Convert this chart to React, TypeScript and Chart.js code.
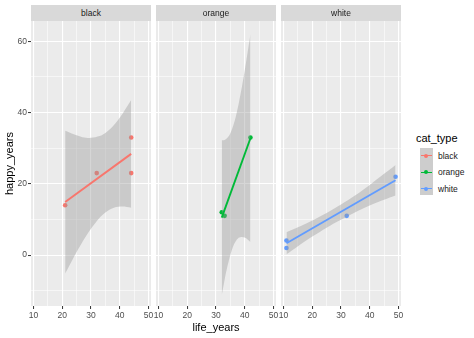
import React, { useEffect, useRef } from 'react';
import { Chart, registerables } from 'chart.js';

Chart.register(...registerables);

// ---------- data ----------
const facets = ['black', 'orange', 'white'];
const facetColors = ['#F8766D', '#00BA38', '#619CFF'];

const blackLife = [21, 32, 44, 44];
const blackHappy = [14, 23, 33, 23];
const orangeLife = [32, 33, 42];
const orangeHappy = [12, 11, 33];
const whiteLife = [11, 11, 32, 49];
const whiteHappy = [4.1, 2.0, 11, 22];

const blackFitX = [21, 44];
const blackFitY = [14.9, 28.4];
const orangeFitX = [32, 42];
const orangeFitY = [10.5, 32.8];
const whiteFitX = [11, 49];
const whiteFitY = [3.3, 21.0];

const blackBandX = [21, 24, 27, 30, 33, 35.25, 38, 41, 44];
const blackBandLow = [-5.2, -0.6, 3.7, 7.4, 10.5, 12.1, 13.3, 13.6, 13.3];
const blackBandHigh = [34.9, 33.9, 33.1, 32.9, 33.4, 34.4, 36.5, 39.7, 43.5];

const orangeBandX = [32, 32.5, 33, 34, 35, 36, 37, 38, 39, 40, 41, 42];
const orangeBandLow = [-11.3, -9.1, -6.9, -3.1, 0.1, 2.5, 4.0, 4.9, 5.1, 4.9, 4.4, 3.7];
const orangeBandHigh = [32.2, 32.2, 32.3, 32.9, 34.2, 36.3, 39.2, 42.9, 47.1, 51.8, 56.8, 62.0];

const whiteBandX = [11, 15, 20, 25, 30, 35, 40, 45, 49];
const whiteBandLow = [0.2, 2.5, 5.2, 7.7, 9.9, 12.0, 13.9, 15.5, 16.7];
const whiteBandHigh = [6.4, 7.8, 9.7, 11.8, 14.2, 16.8, 19.7, 22.8, 25.3];

const xTicks = [10, 15, 20, 25, 30, 35, 40, 45, 50];
const xTickLabels = ['10', '', '20', '', '30', '', '40', '', '50'];
const yTicks = [-10, 0, 10, 20, 30, 40, 50, 60];
const yTickLabels = ['', '0', '', '20', '', '40', '', '60'];

const xTitle = 'life_years';
const yTitle = 'happy_years';
const legendTitle = 'cat_type';

// ---------- style ----------
const FONT = '"Liberation Sans", Arial, Helvetica, sans-serif';
const BAND = 'rgba(153,153,153,0.4)';
const W = 474;
const H = 338;

const panelBg = {
  id: 'panelBg',
  beforeDraw(chart: any) {
    const { ctx, chartArea: a } = chart;
    ctx.save();
    ctx.fillStyle = '#EBEBEB';
    ctx.fillRect(a.left, a.top, a.right - a.left, a.bottom - a.top);
    ctx.restore();
  },
};

const toXY = (xs: number[], ys: number[]) => xs.map((v, i) => ({ x: v, y: ys[i] }));

type PanelProps = {
  idx: number;
  life: number[];
  happy: number[];
  fitX: number[];
  fitY: number[];
  bandX: number[];
  bandLow: number[];
  bandHigh: number[];
  canvasLeft: number;
  canvasWidth: number;
  padLeft: number;
  padRight: number;
  showY: boolean;
  showXTitle: boolean;
};

function Panel(p: PanelProps) {
  const ref = useRef<HTMLCanvasElement>(null);
  useEffect(() => {
    const color = facetColors[p.idx];
    const chart = new Chart(ref.current as HTMLCanvasElement, {
      type: 'line',
      data: {
        datasets: [
          {
            data: toXY(p.bandX, p.bandHigh),
            fill: '+1',
            backgroundColor: BAND,
            borderColor: 'rgba(0,0,0,0)',
            borderWidth: 0,
            pointRadius: 0,
            tension: 0.3,
            order: 1,
          },
          {
            data: toXY(p.bandX, p.bandLow),
            fill: false,
            borderColor: 'rgba(0,0,0,0)',
            borderWidth: 0,
            pointRadius: 0,
            tension: 0.3,
            order: 1,
          },
          {
            data: toXY(p.life, p.happy),
            showLine: false,
            pointRadius: 2.3,
            pointBackgroundColor: color,
            pointBorderColor: color,
            pointBorderWidth: 0,
            borderColor: color,
            order: 2,
          },
          {
            data: toXY(p.fitX, p.fitY),
            borderColor: color,
            borderWidth: 1.9,
            pointRadius: 0,
            fill: false,
            order: 0,
          },
        ],
      } as any,
      options: {
        responsive: false,
        animation: false,
        events: [],
        layout: { padding: { left: p.padLeft, right: p.padRight, top: 21, bottom: 0 } },
        plugins: { legend: { display: false }, tooltip: { enabled: false }, title: { display: false } },
        scales: {
          x: {
            type: 'linear',
            min: 9.1,
            max: 50.9,
            afterBuildTicks: (s: any) => {
              s.ticks = xTicks.map((v) => ({ value: v }));
            },
            afterFit: (s: any) => {
              s.height = 32;
            },
            ticks: {
              callback: (_v: any, i: number) => xTickLabels[i],
              autoSkip: false,
              maxRotation: 0,
              color: '#4D4D4D',
              font: { family: FONT, size: 8.5 },
              padding: 2,
            },
            grid: {
              color: '#FFFFFF',
              lineWidth: (c: any) => (c.tick && c.tick.value % 10 === 0 ? 1.1 : 0.55),
              tickLength: 3,
              tickWidth: 1,
              tickColor: (c: any) => (c.tick && c.tick.value % 10 === 0 ? '#333333' : 'rgba(0,0,0,0)'),
            },
            border: { display: false },
            title: {
              display: p.showXTitle,
              text: xTitle,
              color: '#000000',
              font: { family: FONT, size: 11 },
              padding: { top: 0, bottom: 3 },
            },
          },
          y: {
            type: 'linear',
            min: -14.3,
            max: 65.7,
            afterBuildTicks: (s: any) => {
              s.ticks = yTicks.map((v) => ({ value: v }));
            },
            afterFit: (s: any) => {
              s.width = p.showY ? 31 : 0;
            },
            ticks: {
              display: p.showY,
              callback: (_v: any, i: number) => yTickLabels[i],
              color: '#4D4D4D',
              font: { family: FONT, size: 8.5 },
              padding: 1,
            },
            grid: {
              color: '#FFFFFF',
              lineWidth: (c: any) => (c.tick && c.tick.value % 20 === 0 ? 1.1 : 0.55),
              drawTicks: p.showY,
              tickLength: 3,
              tickWidth: 1,
              tickColor: (c: any) => (c.tick && c.tick.value % 20 === 0 ? '#333333' : 'rgba(0,0,0,0)'),
            },
            border: { display: false },
            title: {
              display: p.showY,
              text: yTitle,
              color: '#000000',
              font: { family: FONT, size: 11 },
              padding: { top: 3.5, bottom: 0 },
            },
          },
        },
      } as any,
      plugins: [panelBg],
    });
    return () => chart.destroy();
  }, []);
  return (
    <canvas
      ref={ref}
      width={p.canvasWidth}
      height={H}
      style={{ position: 'absolute', left: p.canvasLeft, top: 0, width: p.canvasWidth, height: H, display: 'block' }}
    />
  );
}

const stripLefts = [31, 156, 281];
const legendRowY = [155.7, 172.3, 188.7];

export default function App() {
  return (
    <div style={{ position: 'fixed', left: 0, top: 0, width: W, height: H, background: '#FFFFFF', overflow: 'hidden', fontFamily: FONT }}>
      <Panel idx={0} life={blackLife} happy={blackHappy} fitX={blackFitX} fitY={blackFitY}
        bandX={blackBandX} bandLow={blackBandLow} bandHigh={blackBandHigh}
        canvasLeft={0} canvasWidth={160} padLeft={0} padRight={9} showY={true} showXTitle={false} />
      <Panel idx={1} life={orangeLife} happy={orangeHappy} fitX={orangeFitX} fitY={orangeFitY}
        bandX={orangeBandX} bandLow={orangeBandLow} bandHigh={orangeBandHigh}
        canvasLeft={147} canvasWidth={138} padLeft={9} padRight={9} showY={false} showXTitle={true} />
      <Panel idx={2} life={whiteLife} happy={whiteHappy} fitX={whiteFitX} fitY={whiteFitY}
        bandX={whiteBandX} bandLow={whiteBandLow} bandHigh={whiteBandHigh}
        canvasLeft={272} canvasWidth={138} padLeft={9} padRight={9} showY={false} showXTitle={false} />

      {facets.map((f, i) => (
        <div key={f} style={{
          position: 'absolute', left: stripLefts[i], top: 5, width: 120, height: 16,
          background: '#D9D9D9', color: '#1A1A1A', fontSize: 8.5, lineHeight: '16px', textAlign: 'center',
        }}>{f}</div>
      ))}

      <div style={{ position: 'absolute', left: 416, top: 130, fontSize: 11, lineHeight: '16px', color: '#000' }}>{legendTitle}</div>
      <div style={{ position: 'absolute', left: 420, top: 148, width: 12.5, height: 47, background: '#CDCDCD' }} />
      {facets.map((f, i) => (
        <React.Fragment key={f}>
          <div style={{ position: 'absolute', left: 421, top: legendRowY[i] - 0.8, width: 10.5, height: 1.6, background: facetColors[i] }} />
          <div style={{ position: 'absolute', left: 424, top: legendRowY[i] - 2.2, width: 4.4, height: 4.4, borderRadius: '50%', background: facetColors[i] }} />
          <div style={{ position: 'absolute', left: 438, top: legendRowY[i] - 8, fontSize: 8.5, lineHeight: '16px', color: '#1A1A1A' }}>{f}</div>
        </React.Fragment>
      ))}
    </div>
  );
}
